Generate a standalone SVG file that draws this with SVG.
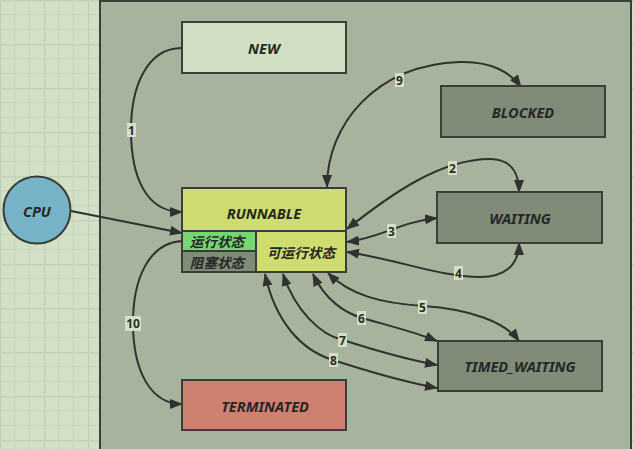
<svg xmlns="http://www.w3.org/2000/svg" width="634" height="449" viewBox="0 0 634 449">
<defs>
<pattern id="grid" width="44" height="44" patternUnits="userSpaceOnUse">
<rect width="44" height="44" fill="#d2e0c7"/>
<path d="M14.67,0V44M29.33,0V44M0,14.67H44M0,29.33H44" stroke="#c8d6bc" stroke-width="1.3" fill="none"/>
<path d="M0.7,0V44M0,0.7H44" stroke="#c3d1b7" stroke-width="1.4" fill="none"/>
</pattern>
<marker id="ah" viewBox="0 0 13 10" refX="12" refY="5" markerWidth="13" markerHeight="10" markerUnits="userSpaceOnUse" orient="auto-start-reverse">
<path d="M0,0 L13,5 L0,10 Z" fill="#2f322f"/>
</marker>
</defs>
<style>
.box{stroke:#3a3e38;stroke-width:2}
.t{font-family:"Noto Sans","Noto Sans CJK SC",sans-serif;font-weight:bold;font-style:italic;font-size:14.5px;fill:#262826;text-anchor:middle;dominant-baseline:central}
.k{font-size:13.6px}
.c{stroke:#2f322f;stroke-width:2;fill:none;marker-end:url(#ah)}
.b{marker-start:url(#ah)}
.lb{fill:#d3e0c6}
.ln{font-family:"Noto Sans",sans-serif;font-weight:bold;font-size:12px;fill:#2a2c2a;text-anchor:middle;dominant-baseline:central}
</style>
<rect x="0" y="0" width="634" height="449" fill="url(#grid)"/>
<rect id="frame" x="100" y="1" width="531" height="470" fill="#a8b39e" stroke="#3a3e38" stroke-width="2"/>

<g id="connectors">
<path class="c" d="M182,48 C145,48 131,90 131,130 C131,175 145,212 182,212"/>
<path class="c" d="M71,211 L182,233"/>
<path class="c" d="M182,241 C148,243 133,280 133,323 C133,370 150,404 182,404"/>
<path class="c b" d="M327,187 C327,125 375,65 460,62 C490,61 510,72 521,87"/>
<path class="c b" d="M347,229 C390,195 440,159 490,159 C510,159 519,172 519,192"/>
<path class="c b" d="M347,242 C380,238 400,222 437,218"/>
<path class="c b" d="M347,252 C400,260 440,277 480,277 C505,277 519,265 519,243"/>
<path class="c b" d="M328,273 C350,295 380,303 423,306 C470,309 505,322 519,341"/>
<path class="c b" d="M313,274 C325,300 345,313 362,318 C390,326 415,332 437,341"/>
<path class="c b" d="M283,274 C295,310 320,335 343,340 C380,352 410,360 437,365"/>
<path class="c b" d="M265,274 C275,320 300,350 333,360 C370,372 405,382 437,388"/>
</g>

<g id="labels">
<rect class="lb" x="127" y="123" width="9" height="14"/><text class="ln" x="131.5" y="130">1</text>
<rect class="lb" x="125" y="316" width="16" height="15"/><text class="ln" x="133" y="323.5">10</text>
<rect class="lb" x="395" y="73" width="9" height="14"/><text class="ln" x="399.5" y="80">9</text>
<rect class="lb" x="448" y="161" width="9" height="14"/><text class="ln" x="452.5" y="168">2</text>
<rect class="lb" x="387" y="224" width="9" height="14"/><text class="ln" x="391.5" y="231">3</text>
<rect class="lb" x="454" y="266" width="9" height="14"/><text class="ln" x="458.5" y="273">4</text>
<rect class="lb" x="418" y="300" width="9" height="14"/><text class="ln" x="422.5" y="307">5</text>
<rect class="lb" x="357" y="311" width="9" height="14"/><text class="ln" x="361.5" y="318">6</text>
<rect class="lb" x="338" y="333" width="9" height="14"/><text class="ln" x="342.5" y="340">7</text>
<rect class="lb" x="329" y="353" width="9" height="14"/><text class="ln" x="333.5" y="360">8</text>
</g>

<g id="cpu">
<circle class="box" cx="37" cy="210" r="33.5" fill="#76b3c7"/>
<text class="t" x="37" y="211">CPU</text>
</g>
<g id="new">
<rect class="box" x="182" y="22" width="164" height="51" fill="#d1dfc5"/>
<text class="t" x="264" y="48">NEW</text>
</g>
<g id="runnable">
<rect class="box" x="182" y="188" width="164" height="84" fill="#cfdc70"/>
<line class="box" x1="182" y1="231" x2="346" y2="231"/>
<text class="t" x="264" y="213">RUNNABLE</text>
</g>
<g id="running">
<rect class="box" x="182" y="231" width="74" height="20" fill="#74d774"/>
<text class="t k" x="217" y="241">运行状态</text>
</g>
<g id="blockedsub">
<rect class="box" x="182" y="251" width="74" height="21" fill="#808b78"/>
<text class="t k" x="217" y="262">阻塞状态</text>
</g>
<g id="ready">
<rect class="box" x="256" y="231" width="90" height="41" fill="#cfdc70"/>
<text class="t k" x="301" y="252">可运行状态</text>
</g>
<g id="blocked">
<rect class="box" x="441" y="86" width="164" height="51" fill="#808b78"/>
<text class="t" x="523" y="112">BLOCKED</text>
</g>
<g id="waiting">
<rect class="box" x="437" y="192" width="165" height="51" fill="#808b78"/>
<text class="t" x="520" y="218">WAITING</text>
</g>
<g id="timed_waiting">
<rect class="box" x="438" y="341" width="164" height="50" fill="#808b78"/>
<text class="t" x="520" y="366">TIMED_WAITING</text>
</g>
<g id="terminated">
<rect class="box" x="182" y="380" width="164" height="50" fill="#d08070"/>
<text class="t" x="265" y="406">TERMINATED</text>
</g>
</svg>
